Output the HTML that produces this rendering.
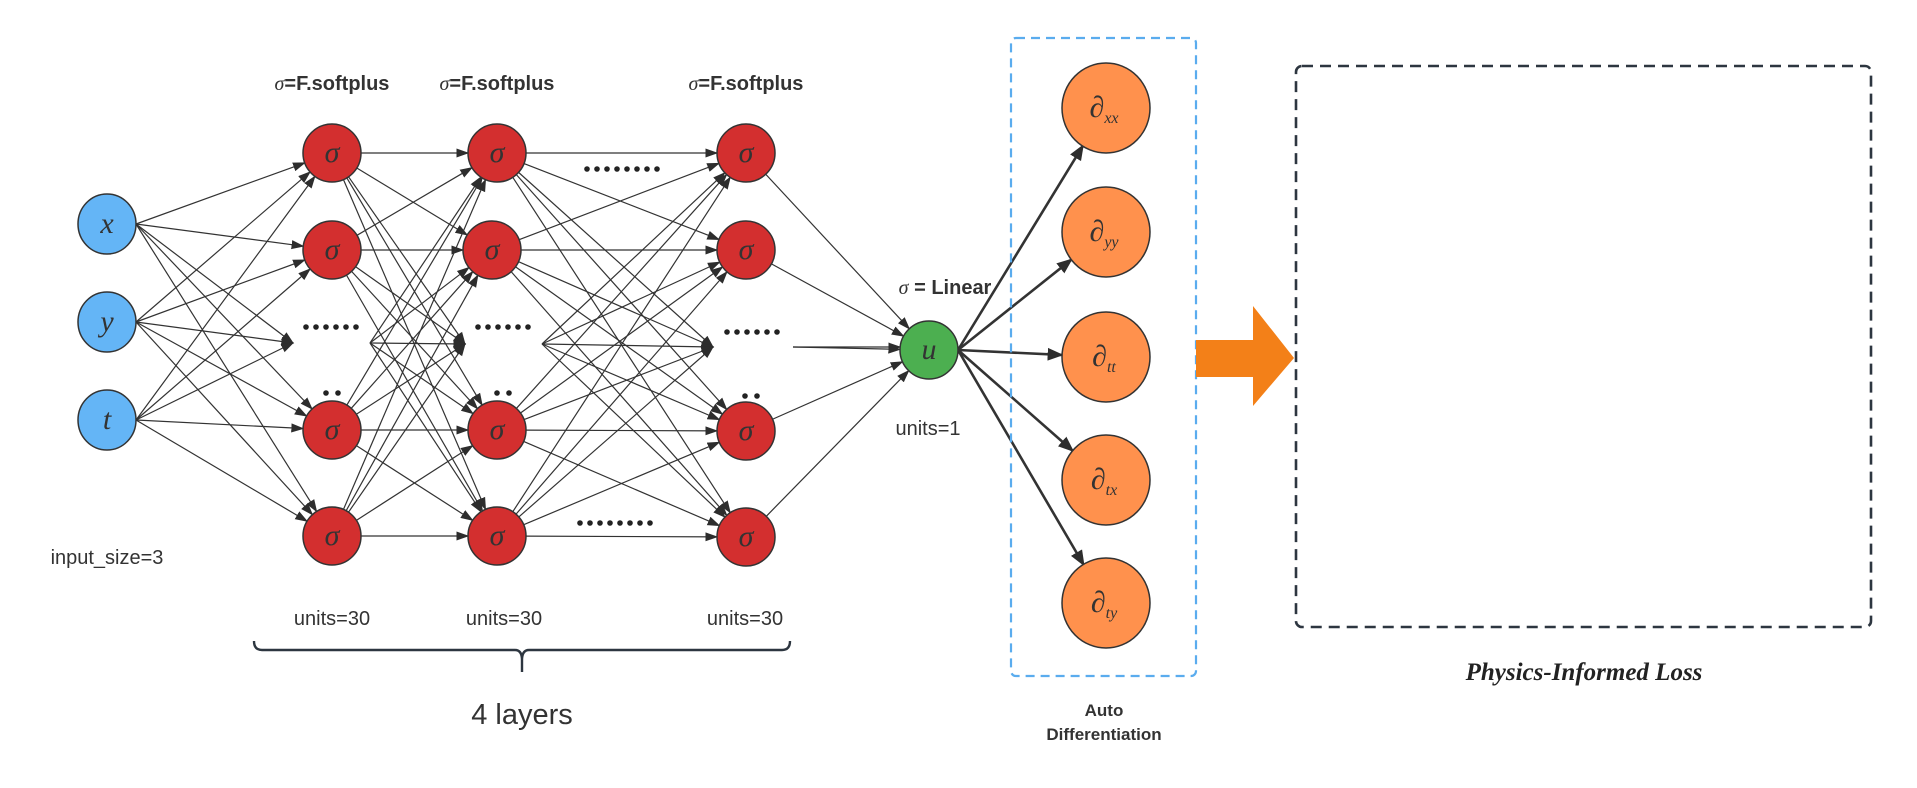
<!DOCTYPE html>
<html><head><meta charset="utf-8">
<style>
html,body{margin:0;padding:0;background:#fff;}
svg{display:block;}
.t{font-family:"Liberation Sans",sans-serif;fill:#333;}
.m{font-family:"Liberation Serif",serif;font-style:italic;fill:#333;}
</style></head>
<body>
<svg id="s" width="1917" height="788" viewBox="0 0 1917 788" xmlns="http://www.w3.org/2000/svg">
<defs>
<marker id="b" viewBox="0 0 10 10" refX="9" refY="5" markerWidth="16" markerHeight="16" markerUnits="userSpaceOnUse" orient="auto"><path d="M0,1 L10,5 L0,9 z" fill="#2d2d2d"/></marker>
<marker id="c" viewBox="0 0 10 10" refX="9" refY="5" markerWidth="13" markerHeight="13" markerUnits="userSpaceOnUse" orient="auto"><path d="M0,1.5 L10,5 L0,8.5 z" fill="#2d2d2d"/></marker>
</defs>
<g id="edges" stroke="#333" stroke-width="1.2" fill="none"></g>
<g id="nodes"></g>

<text class="t" x="332" y="90" font-size="20" font-weight="bold" text-anchor="middle"><tspan class="m" font-weight="normal">σ</tspan>=F.softplus</text>
<text class="t" x="497" y="90" font-size="20" font-weight="bold" text-anchor="middle"><tspan class="m" font-weight="normal">σ</tspan>=F.softplus</text>
<text class="t" x="746" y="90" font-size="20" font-weight="bold" text-anchor="middle"><tspan class="m" font-weight="normal">σ</tspan>=F.softplus</text>
<text class="t" x="945" y="294" font-size="20" font-weight="bold" text-anchor="middle"><tspan class="m" font-weight="normal">σ</tspan> = Linear</text>
<text class="t" x="928" y="435" font-size="20" text-anchor="middle">units=1</text>
<text class="t" x="107" y="564" font-size="20" text-anchor="middle">input_size=3</text>
<text class="t" x="332" y="625" font-size="20" text-anchor="middle">units=30</text>
<text class="t" x="504" y="625" font-size="20" text-anchor="middle">units=30</text>
<text class="t" x="745" y="625" font-size="20" text-anchor="middle">units=30</text>
<path d="M254,641 Q254,650 262,650 L515,650 Q522,650 522,660 L522,672 M522,660 Q522,650 529,650 L782,650 Q790,650 790,641" stroke="#2d3640" stroke-width="2.4" fill="none"/>
<text class="t" x="522" y="724" font-size="29" text-anchor="middle">4 layers</text>
<text class="t" x="1104" y="716" font-size="17" font-weight="bold" text-anchor="middle">Auto</text>
<text class="t" x="1104" y="740" font-size="17" font-weight="bold" text-anchor="middle">Differentiation</text>
<text x="1584" y="680" font-size="25" font-weight="bold" font-style="italic" font-family="Liberation Serif,serif" fill="#222" text-anchor="middle">Physics-Informed Loss</text>

<rect x="1011" y="38" width="185" height="638" rx="5" fill="none" stroke="#5aacee" stroke-width="2.2" stroke-dasharray="9,6"/>
<rect x="1296" y="66" width="575" height="561" rx="6" fill="none" stroke="#2d3640" stroke-width="2.6" stroke-dasharray="11,7"/>
<path d="M1196,340 L1253,340 L1253,306 L1294,358 L1253,406 L1253,377 L1196,377 z" fill="#f38018"/>
</svg>
<script>
const NS="http://www.w3.org/2000/svg";
const E=document.getElementById('edges'),N=document.getElementById('nodes');
function line(x1,y1,x2,y2,m,w){const l=document.createElementNS(NS,'line');l.setAttribute('x1',x1);l.setAttribute('y1',y1);l.setAttribute('x2',x2);l.setAttribute('y2',y2);l.setAttribute('marker-end','url(#'+m+')');if(w)l.setAttribute('stroke-width',w);E.appendChild(l);}
function circ(cx,cy,rx,ry,fill,label,fs,sub){const e=document.createElementNS(NS,'ellipse');e.setAttribute('cx',cx);e.setAttribute('cy',cy);e.setAttribute('rx',rx);e.setAttribute('ry',ry);e.setAttribute('fill',fill);e.setAttribute('stroke','#333');e.setAttribute('stroke-width','1.5');N.appendChild(e);
 const t=document.createElementNS(NS,'text');t.setAttribute('x',cx);t.setAttribute('y',cy+fs*0.3);t.setAttribute('text-anchor','middle');t.setAttribute('class','m');t.setAttribute('font-size',fs);t.textContent=label;
 if(sub){t.setAttribute('x',cx-2);t.setAttribute('font-style','normal');t.setAttribute('font-weight','bold');const s=document.createElementNS(NS,'tspan');s.setAttribute('font-size',16);s.setAttribute('font-style','italic');s.setAttribute('font-weight','normal');s.setAttribute('dy',6);s.textContent=sub;t.appendChild(s);}
 N.appendChild(t);}
function dots(x,y,n,g){for(let i=0;i<n;i++){const c=document.createElementNS(NS,'circle');c.setAttribute('cx',x+i*g);c.setAttribute('cy',y);c.setAttribute('r',2.8);c.setAttribute('fill','#222');N.appendChild(c);}}
const R=29;
const inp=[[107,224],[107,322],[107,420]];
const L1=[[332,153],[332,250],null,[332,430],[332,536]];
const L2=[[497,153],[492,250],null,[497,430],[497,536]];
const L3=[[746,153],[746,250],null,[746,431],[746,537]];
const mid1={t:[293,343],s:[370,343]},mid2={t:[465,344],s:[542,344]},mid3={t:[713,347],s:[793,347]};
function toward(a,b,r){const dx=b[0]-a[0],dy=b[1]-a[1],d=Math.hypot(dx,dy);return [b[0]-dx/d*r,b[1]-dy/d*r];}
inp.forEach(p=>{for(let j=0;j<5;j++){const s=[p[0]+R,p[1]];let e;if(L1[j])e=toward(s,L1[j],R);else e=mid1.t;line(s[0],s[1],e[0],e[1],'c');}});
function conn(A,ma,B,mb){for(let i=0;i<5;i++)for(let j=0;j<5;j++){let s=A[i]?null:ma.s;let e=B[j]?null:mb.t;
 const bc=B[j]||mb.t;
 if(!s){s=toward(bc,A[i],R);} if(!e){e=toward(s,B[j],R);}
 line(s[0],s[1],e[0],e[1],'c');}}
conn(L1,mid1,L2,mid2);conn(L2,mid2,L3,mid3);
const U=[929,350];
L3.forEach((p,i)=>{let s=p?toward(U,p,R):mid3.s;const e=toward(s,U,R);line(s[0],s[1],e[0],e[1],'c');});
const D=[[1106,108,'xx'],[1106,232,'yy'],[1106,357,'tt'],[1106,480,'tx'],[1106,603,'ty']];
const S0=[958,350];
D.forEach(d=>{const e=toward(S0,[d[0],d[1]],44);line(S0[0],S0[1],e[0],e[1],'b',2.6);});
inp.forEach((p,i)=>circ(p[0],p[1],29,30,'#64b5f6',['x','y','t'][i],30));
[L1,L2,L3].forEach(L=>L.forEach(p=>{if(p)circ(p[0],p[1],R,R,'#d32f2f','σ',30);}));
circ(U[0],U[1],29,29,'#4caf50','u',30);
D.forEach(d=>circ(d[0],d[1],44,45,'#ff914d','∂',30,d[2]));
dots(306,327,6,10);dots(326,393,2,12);
dots(478,327,6,10);dots(497,393,2,12);
dots(727,332,6,10);dots(745,396,2,12);
dots(587,169,8,10);dots(580,523,8,10);
line(793,347,900,347,'c');
</script>
</body></html>
